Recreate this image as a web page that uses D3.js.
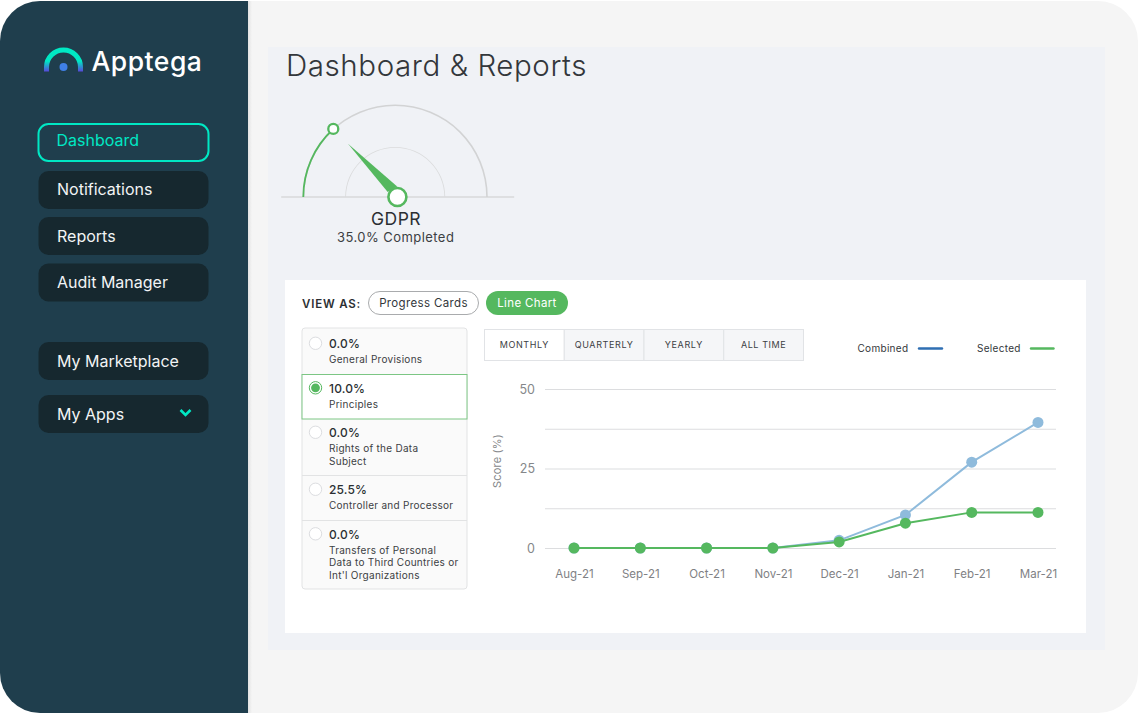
<!DOCTYPE html>
<html lang="en">

<head>
  <meta charset="UTF-8">
  <title>Apptega Dashboard</title>
  <style>
    html, body { margin: 0; padding: 0; background: #fff; }
    svg { display: block; }
    text { font-family: Inter, "Open Sans", sans-serif; }
  </style>
</head>

<body>
  <svg id="svg" width="1139" height="713"></svg>

  <script src="https://d3js.org/d3.v7.min.js"></script>
  <script>
    // chart values
    const months = ["Aug-21", "Sep-21", "Oct-21", "Nov-21", "Dec-21", "Jan-21", "Feb-21", "Mar-21"]
    const combinedScores = [0, 0, 0, 0, 2.4, 10.4, 27, 39.5]
    const selectedScores = [0, 0, 0, 0, 1.9, 7.8, 11.2, 11.2]
    const gridValues = [0, 12.5, 25, 37.5, 50]
    const yLabels = [0, 25, 50]

    // side panel and controls
    const navTop = ["Dashboard", "Notifications", "Reports", "Audit Manager"]
    const navBottom = ["My Marketplace", "My Apps"]
    const tabs = ["MONTHLY", "QUARTERLY", "YEARLY", "ALL TIME"]
    const sectionScores = ["0.0%", "10.0%", "0.0%", "25.5%", "0.0%"]
    const sectionNames = [
      ["General Provisions"],
      ["Principles"],
      ["Rights of the Data", "Subject"],
      ["Controller and Processor"],
      ["Transfers of Personal", "Data to Third Countries or", "Int'l Organizations"]
    ]
    const gaugeShare = 0.265

    const GREEN = "#55b85f"
    const LIGHT_BLUE = "#8fbbdc"
    const TEAL = "#00e8c4"
    const DARK = "#2b2f33"

    const svg = d3.select("#svg")

    function label(parent, str, x, y, size, opts = {}) {
      return parent.append("text")
        .text(str)
        .attr("x", x)
        .attr("y", y)
        .attr("fill", opts.fill || DARK)
        .attr("text-anchor", opts.anchor || "start")
        .style("font-size", size + "px")
        .style("font-weight", opts.weight || 400)
        .style("letter-spacing", (opts.spacing || 0) + "px")
    }

    // frame
    const defs = svg.append("defs")
    defs.append("clipPath").attr("id", "frame")
      .append("rect").attr("x", 0).attr("y", 1).attr("width", 1138).attr("height", 712).attr("rx", 40)
    const logoGrad = defs.append("linearGradient").attr("id", "logoGrad")
      .attr("gradientUnits", "userSpaceOnUse")
      .attr("x1", 0).attr("x2", 0).attr("y1", 48).attr("y2", 72)
    logoGrad.append("stop").attr("offset", "0.55").attr("stop-color", TEAL)
    logoGrad.append("stop").attr("offset", "1").attr("stop-color", "#5b3fdc")
    const shadow = defs.append("linearGradient").attr("id", "sideShadow")
    shadow.append("stop").attr("offset", "0").attr("stop-color", "#e2e2e2")
    shadow.append("stop").attr("offset", "1").attr("stop-color", "#f5f5f5")

    const page = svg.append("g").attr("clip-path", "url(#frame)")
    page.append("rect").attr("width", 1139).attr("height", 713).attr("fill", "#f5f5f5")
    page.append("rect").attr("x", 248).attr("width", 4).attr("height", 713).attr("fill", "url(#sideShadow)")
    page.append("rect").attr("width", 248).attr("height", 713).attr("fill", "#1f3e4d")

    // logo
    const logo = page.append("g")
    logo.append("path")
      .attr("d", "M46.5 71.5 V67 A17 17 0 0 1 80.5 67 V71.5")
      .attr("fill", "none")
      .attr("stroke", "url(#logoGrad)")
      .attr("stroke-width", 5)
    logo.append("circle").attr("cx", 63.5).attr("cy", 67).attr("r", 4).attr("fill", "#3f7fe6")
    label(logo, "Apptega", 91.5, 71, 26.5, { fill: "#fff", weight: 500, spacing: 0.5 })

    // navigation
    const navTops = [124, 171, 217, 263.5]
    const navLowTops = [342, 395]
    const navBtn = (name, top) => {
      const active = name === "Dashboard"
      page.append("rect")
        .attr("x", 38.5).attr("y", top).attr("width", 170).attr("height", active ? 37 : 38).attr("rx", 10)
        .attr("fill", active ? "none" : "#16282f")
        .attr("stroke", active ? TEAL : "none")
        .attr("stroke-width", 2)
      label(page, name, active ? 56.5 : 57, Math.round(top + (active ? 22 : 24.5)) - (name === "Notifications" ? 1 : 0), 16, { fill: active ? TEAL : "#f2f4f5" })
    }
    navTop.forEach((n, i) => navBtn(n, navTops[i]))
    navBottom.forEach((n, i) => navBtn(n, navLowTops[i]))
    page.append("path")
      .attr("d", d3.line()([[180.5, 410], [185.5, 415], [190.5, 410]]))
      .attr("fill", "none").attr("stroke", TEAL).attr("stroke-width", 2.6)

    // main panel
    page.append("rect").attr("x", 268).attr("y", 47).attr("width", 837).attr("height", 603).attr("fill", "#f0f2f6")
    label(page, "Dashboard & Reports", 286, 76, 29.5, { fill: "#33373b", weight: 300, spacing: 0.57 })

    // gauge
    const gauge = page.append("g").attr("transform", "translate(395.2,197)")
    const halfArc = d3.arc().startAngle(-Math.PI / 2).endAngle(Math.PI / 2)
    gauge.append("line").attr("x1", -114).attr("x2", 119).attr("stroke", "#d8d9da").attr("stroke-width", 1.3)
    gauge.append("path").attr("d", halfArc({ innerRadius: 91, outerRadius: 92.6 })).attr("fill", "#d2d3d4")
    gauge.append("path").attr("d", halfArc({ innerRadius: 49.2, outerRadius: 50 })).attr("fill", "#dadbdc")
    const gaugeAngle = d3.scaleLinear().domain([0, 1]).range([-Math.PI / 2, Math.PI / 2])
    const tipAngle = gaugeAngle(gaugeShare)
    gauge.append("path")
      .attr("d", d3.arc().innerRadius(91).outerRadius(92.8).startAngle(-Math.PI / 2).endAngle(tipAngle)())
      .attr("fill", GREEN)
    gauge.append("circle")
      .attr("cx", Math.sin(tipAngle) * 92).attr("cy", -Math.cos(tipAngle) * 92).attr("r", 5)
      .attr("fill", "#fff").attr("stroke", GREEN).attr("stroke-width", 2.3)
    gauge.append("path")
      .attr("d", d3.line()([[-47.2, -53.3], [-7.5, -5], [2, -10.5]]))
      .attr("fill", GREEN)
    gauge.append("circle").attr("cx", 2.2).attr("cy", 0).attr("r", 9)
      .attr("fill", "#fff").attr("stroke", GREEN).attr("stroke-width", 2.6)
    label(gauge, "GDPR", 0.8, 28, 17.5, { anchor: "middle", weight: 400, spacing: 0.5 })
    label(gauge, "35.0% Completed", 0.4, 45, 13, { anchor: "middle", spacing: 0.45, fill: "#3c4043" })

    // white card
    page.append("rect").attr("x", 285).attr("y", 280).attr("width", 801).attr("height", 353).attr("fill", "#fff")
    label(page, "VIEW AS:", 302, 308, 11.5, { weight: 600, spacing: 0.8 })
    page.append("rect").attr("x", 368.5).attr("y", 291.5).attr("width", 110).attr("height", 23).attr("rx", 11.5)
      .attr("fill", "#fff").attr("stroke", "#a9abad")
    label(page, "Progress Cards", 423.5, 307, 11.5, { anchor: "middle", spacing: 0.35, fill: "#33373b" })
    page.append("rect").attr("x", 486).attr("y", 291).attr("width", 82).attr("height", 24).attr("rx", 12).attr("fill", GREEN)
    label(page, "Line Chart", 527, 307, 11.5, { anchor: "middle", fill: "#fff", spacing: 0.35 })

    // section list
    const rowTops = [328, 374, 419, 475, 520]
    const rowBottoms = [374, 419, 475, 520, 589]
    const rowTextTops = [328, 372.5, 417, 474, 518.5]
    page.append("rect").attr("x", 302).attr("y", 328).attr("width", 165).attr("height", 261).attr("rx", 3)
      .attr("fill", "#fafafa").attr("stroke", "#e2e3e4")
    const rows = page.selectAll("g.row").data(sectionScores).enter().append("g").attr("class", "row")
    rows.each(function (score, i) {
      const row = d3.select(this)
      const top = rowTops[i]
      const textTop = rowTextTops[i]
      const picked = i === 1
      if (i > 2) {
        row.append("line").attr("x1", 302).attr("x2", 467).attr("y1", top + 0.5).attr("y2", top + 0.5).attr("stroke", "#e2e3e4")
      }
      if (picked) {
        row.append("rect").attr("x", 302).attr("y", top + 0.5).attr("width", 165).attr("height", rowBottoms[i] - top - 0.5)
          .attr("fill", "#fff").attr("stroke", "#7cc684")
      }
      row.append("circle").attr("cx", 315.5).attr("cy", textTop + 15.3).attr("r", 6.2)
        .attr("fill", "#fff").attr("stroke", picked ? GREEN : "#dcdde0")
      if (picked) row.append("circle").attr("cx", 315.5).attr("cy", textTop + 15.3).attr("r", 4.4).attr("fill", GREEN)
      label(row, score, 329, textTop + 20, 12, { weight: 500, spacing: 0.15 })
      sectionNames[i].forEach((line, j) => {
        label(row, line, 329, textTop + 35.2 + j * 12.7, 10, { spacing: 0.28, fill: "#3c4043" })
      })
    })

    // range tabs
    const tabX = d3.scaleBand().domain(tabs).range([484.5, 803.5])
    tabs.forEach((t, i) => {
      page.append("rect").attr("x", tabX(t)).attr("y", 329.5).attr("width", tabX.bandwidth()).attr("height", 31)
        .attr("fill", i === 0 ? "#fff" : "#f5f6f8").attr("stroke", "#e1e3e6")
      label(page, t, tabX(t) + tabX.bandwidth() / 2, 348.3, 9, { anchor: "middle", spacing: 0.6, fill: "#3c4043", weight: 400 })
    })

    // legend
    label(page, "Combined", 857.5, 352, 10, { spacing: 0.3, fill: "#33373b" })
    page.append("line").attr("x1", 919).attr("x2", 942).attr("y1", 348.5).attr("y2", 348.5)
      .attr("stroke", "#2f6fb3").attr("stroke-width", 2.4).attr("stroke-linecap", "round")
    label(page, "Selected", 977, 352, 10, { spacing: 0.3, fill: "#33373b" })
    page.append("line").attr("x1", 1031).attr("x2", 1053.5).attr("y1", 348.5).attr("y2", 348.5)
      .attr("stroke", GREEN).attr("stroke-width", 2.4).attr("stroke-linecap", "round")

    // line chart
    const xScale = d3.scalePoint().domain(months).range([574, 1038])
    const yScale = d3.scaleLinear().domain([0, 50]).range([548, 389])
    const chart = page.append("g")

    const yAxis = chart.append("g")
      .attr("transform", "translate(545,0)")
      .call(d3.axisLeft(yScale)
        .tickValues(gridValues)
        .tickSize(-511)
        .tickPadding(10)
        .tickFormat(d => yLabels.includes(d) ? d : ""))
    yAxis.select(".domain").remove()
    yAxis.selectAll("line").attr("stroke", "#dcdddf").attr("stroke-width", 1.2)
    yAxis.selectAll("text").attr("fill", "#85878a").style("font-size", "12.5px")

    const xAxis = chart.append("g")
      .attr("transform", "translate(0,548)")
      .call(d3.axisBottom(xScale).tickSize(0).tickPadding(22))
    xAxis.select(".domain").remove()
    xAxis.selectAll("text").attr("fill", "#7f8184").style("font-size", "11.5px")

    label(chart, "Score (%)", 0, 0, 11, { anchor: "middle", fill: "#85878a", spacing: 0.2 })
      .attr("transform", "translate(501,461) rotate(-90)")

    const line = d3.line().x((d, i) => xScale(months[i])).y(d => yScale(d))
    chart.append("path").attr("d", line(combinedScores)).attr("fill", "none")
      .attr("stroke", LIGHT_BLUE).attr("stroke-width", 2)
    chart.selectAll(".combined").data(combinedScores).enter().append("circle")
      .attr("class", "combined")
      .attr("cx", (d, i) => xScale(months[i])).attr("cy", d => yScale(d)).attr("r", 5.5)
      .attr("fill", LIGHT_BLUE)
    chart.append("path").attr("d", line(selectedScores)).attr("fill", "none")
      .attr("stroke", GREEN).attr("stroke-width", 2)
    chart.selectAll(".selected").data(selectedScores).enter().append("circle")
      .attr("class", "selected")
      .attr("cx", (d, i) => xScale(months[i])).attr("cy", d => yScale(d)).attr("r", 5.5)
      .attr("fill", GREEN)
  </script>
</body>

</html>
